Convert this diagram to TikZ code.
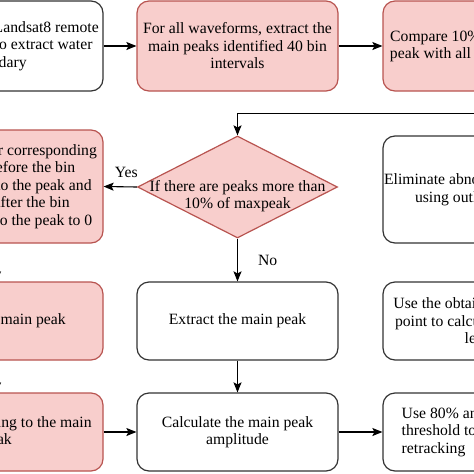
\documentclass[tikz,border=0pt]{standalone}
\usepackage{fontspec}
\setmainfont{Liberation Serif}
\usetikzlibrary{arrows.meta,shapes.geometric}
\definecolor{pinkfill}{HTML}{F8CECC}
\definecolor{pinkdraw}{HTML}{B85450}
\definecolor{greydraw}{HTML}{333333}
\newcommand{\boxfont}{\fontsize{15.7pt}{17.5pt}\selectfont}
\tikzset{
  box/.style={rounded corners=12pt, line width=1.2pt, inner sep=0pt, align=center, font=\boxfont},
  pinkbox/.style={box, fill=pinkfill, draw=pinkdraw},
  whitebox/.style={box, fill=white, draw=greydraw},
  colL/.style={minimum width=212pt},
  colM/.style={minimum width=201pt},
  colR/.style={minimum width=194pt},
  rowA/.style={minimum height=90pt},
  rowB/.style={minimum height=78pt},
  dec/.style={shape=diamond, draw=pinkdraw, fill=pinkfill, line width=1.2pt, inner sep=0pt, minimum width=200pt, minimum height=102pt},
  lbl/.style={font=\boxfont, align=center, inner sep=0pt},
  arr/.style={-{Stealth[length=10pt,width=8pt,inset=2pt]}, line width=1.1pt, draw=black},
}
\begin{document}
\begin{tikzpicture}[x=1pt,y=1pt]
\useasboundingbox (0,0) rectangle (474,-474);
\clip (0,0) rectangle (474,-474);
% row 1
\node[whitebox, colL, rowA] (A) at (-3,-46) {Use the data of Landsat8 remote\\sensing image to extract water\\boundary};
\node[pinkbox, colM, rowA] (B) at (237.5,-46) {For all waveforms, extract the\\main peaks identified 40 bin\\intervals};
\node[pinkbox, colR, rowA] (C) at (480,-46) {Compare 10\% of the highest\\peak with all the other peaks};
% row 2
\node[pinkbox, colL, minimum height=113pt] (D) at (-3,-186.5) {Set all the power corresponding\\to the bins before the bin\\corresponding to the peak and\\to the bins after the bin\\corresponding to the peak to 0};
\node[dec, label={[lbl, yshift=-9pt]center:{If there are peaks more than\\10\% of maxpeak}}] (Q) at (237.5,-187) {};
\node[whitebox, colR, minimum height=107pt] (E) at (480,-189.5) {Eliminate abnormal elevations\\using outlier method};
% row 3
\node[pinkbox, colL, rowB] (G) at (-3,-321) {Extract the main peak};
\node[whitebox, colM, rowB] (F) at (237.5,-321) {Extract the main peak};
\node[whitebox, colR, rowB] (H) at (480,-321) {Use the obtained retracking\\point to calculate the water\\level};
% row 4
\node[pinkbox, colL, rowB] (I) at (-3,-432) {Retrack according to the main\\peak};
\node[whitebox, colM, rowB] (J) at (237.5,-432) {Calculate the main peak\\amplitude};
\node[whitebox, colR, rowB, align=left] (K) at (480,-432) {Use 80\% and 50\% as the\\threshold to determine\\retracking};
% connectors
\draw[arr] (A) -- (B);
\draw[arr] (B) -- (C);
\draw[arr] (C.south) -- ++(0,-22) -| (Q.north);
\draw[arr] (Q.west) -- node[lbl, above=9pt, xshift=6pt] (yes) {Yes} (D.east);
\draw[arr] (Q.south) -- node[lbl, right=20pt, pos=0.5] (no) {No} (F.north);
\draw[arr] (D.south) -- (G.north);
\draw[arr] (G.south) -- (I.north);
\draw[arr] (F.south) -- (J.north);
\draw[arr] (I.east) -- (J.west);
\draw[arr] (J.east) -- (K.west);
\end{tikzpicture}
\end{document}
